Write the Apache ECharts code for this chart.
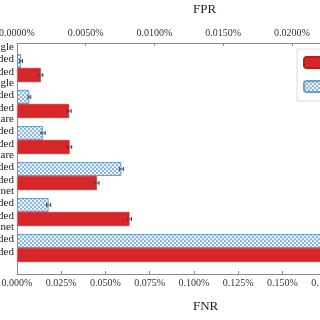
<!DOCTYPE html>
<html>
<head>
<meta charset="utf-8">
<script src="https://cdn.jsdelivr.net/npm/echarts@6/dist/echarts.min.js"></script>
<style>
  html, body { margin: 0; padding: 0; background: #fff; }
  #chart { width: 320px; height: 320px; }
</style>
</head>
<body>
<div id="chart"></div>
<script>
// groups, top to bottom
var groupNames = ['Single', 'Angle', 'Square', 'Share', 'Convnet', 'Resnet'];
var variantNames = ['Padded', 'Unpadded'];

// FNR (bottom axis, red), in %
var fnrValues = [0.0134, 0.0294, 0.0297, 0.0451, 0.0635, 0.1900];
var fnrErrors = [0.0012, 0.0012, 0.0012, 0.0012, 0.0012, 0.0010];

// FPR (top axis, hatched blue), in %
var fprValues = [0.0003, 0.0009, 0.0019, 0.0076, 0.0023, 0.0250];
var fprErrors = [0.0001, 0.0001, 0.00015, 0.00015, 0.00015, 0.0001];

var fnrTicks = { min: 0, max: 0.2, interval: 0.025 };
var fprTicks = { min: 0, max: 0.02575, interval: 0.005 };

var serif = 'Liberation Serif';
var catGap = 0.22;

function makeHatch() {
	var c = document.createElement('canvas');
	c.width = 4; c.height = 4;
	var ctx = c.getContext('2d');
	ctx.fillStyle = '#eef5fc';
	ctx.fillRect(0, 0, 4, 4);
	ctx.fillStyle = '#8db7e2';
	ctx.fillRect(0, 0, 2, 2);
	ctx.fillRect(2, 2, 2, 2);
	return c;
}

// extra empty line at the end lifts the block so "Padded"/"Unpadded" sit by their bars
var categoryLabels = groupNames.map(function (g) {
	return '{t|' + g + '}\n{t|' + variantNames[0] + '}\n{t|' + variantNames[1] + '}\n{s| }';
});

function errorBars(values, errors, side) {
	return values.map(function (v, i) { return [v, i, errors[i], side]; });
}

function renderError(params, api) {
	var v = api.value(0), cat = api.value(1), e = api.value(2), side = api.value(3);
	var p0 = api.coord([v - e, cat]);
	var p1 = api.coord([v + e, cat]);
	var band = api.size([0, 1])[1];
	var barW = band * (1 - catGap) / 2;
	var y = p0[1] + side * barW / 2;
	var style = { stroke: '#444', lineWidth: 1 };
	return {
		type: 'group',
		children: [
			{ type: 'line', shape: { x1: p0[0], y1: y, x2: p1[0], y2: y }, style: style },
			{ type: 'line', shape: { x1: p0[0], y1: y - 2, x2: p0[0], y2: y + 2 }, style: style },
			{ type: 'line', shape: { x1: p1[0], y1: y - 2, x2: p1[0], y2: y + 2 }, style: style }
		]
	};
}

var chart = echarts.init(document.getElementById('chart'), null, { renderer: 'canvas' });

var axisLineStyle = { color: '#8a8a8a', width: 1 };

var option = {
	animation: false,
	backgroundColor: '#fff',
	grid: { left: 17, width: 354, top: 50, height: 216, outerBoundsMode: 'none', containLabel: false },
	legend: {
		orient: 'vertical',
		left: 297,
		top: 49,
		padding: [7, 6, 8, 6],
		itemWidth: 40,
		itemHeight: 11,
		itemGap: 11,
		borderColor: '#dcdcdc',
		borderWidth: 1,
		textStyle: { fontFamily: serif, fontSize: 11, color: '#222' },
		data: ['FNR', 'FPR']
	},
	xAxis: [
		{
			type: 'value',
			position: 'bottom',
			offset: 8,
			min: fnrTicks.min, max: fnrTicks.max, interval: fnrTicks.interval,
			axisLine: { show: true, lineStyle: axisLineStyle },
			axisTick: { show: true, inside: true, length: 3, lineStyle: axisLineStyle },
			splitLine: { show: false },
			axisLabel: {
				margin: 4,
				fontFamily: serif, fontSize: 10, color: '#333',
				formatter: function (v) { return v.toFixed(3) + '%'; }
			}
		},
		{
			type: 'value',
			position: 'top',
			offset: 7,
			min: fprTicks.min, max: fprTicks.max, interval: fprTicks.interval,
			axisLine: { show: true, lineStyle: axisLineStyle },
			axisTick: { show: true, inside: true, length: 3, lineStyle: axisLineStyle },
			splitLine: { show: false },
			axisLabel: {
				margin: 5,
				fontFamily: serif, fontSize: 10, color: '#333',
				formatter: function (v) { return v.toFixed(4) + '%'; }
			}
		}
	],
	yAxis: {
		type: 'category',
		inverse: true,
		data: categoryLabels,
		axisLine: { show: false },
		axisTick: { show: false },
		axisLabel: {
			interval: 0,
			margin: 3,
			align: 'right',
			rich: {
				t: { fontFamily: serif, fontSize: 11, color: '#222', height: 12.5, lineHeight: 12.5 },
				s: { fontFamily: serif, fontSize: 11, height: 17, lineHeight: 17 }
			}
		}
	},
	graphic: [
		{ type: 'line', shape: { x1: 17.5, y1: 43, x2: 17.5, y2: 274 }, style: { stroke: '#8a8a8a', lineWidth: 1 }, z: 10 },
		{ type: 'text', left: 193, top: 3, style: { text: 'FPR', font: '13px "Liberation Serif"', fill: '#222' } },
		{ type: 'text', left: 193, top: 300, style: { text: 'FNR', font: '13px "Liberation Serif"', fill: '#222' } }
	],
	series: [
		{
			name: 'FPR',
			type: 'bar',
			xAxisIndex: 1,
			barGap: '0%',
			barCategoryGap: (catGap * 100) + '%',
			itemStyle: {
				color: { image: makeHatch(), repetition: 'repeat' },
				borderColor: '#6b9fd0',
				borderWidth: 1
			},
			data: fprValues
		},
		{
			name: 'FNR',
			type: 'bar',
			xAxisIndex: 0,
			barGap: '0%',
			barCategoryGap: (catGap * 100) + '%',
			itemStyle: { color: '#d7262a', borderColor: '#b81d20', borderWidth: 0.5 },
			data: fnrValues
		},
		{
			type: 'custom',
			xAxisIndex: 1,
			renderItem: renderError,
			data: errorBars(fprValues, fprErrors, -1),
			z: 5
		},
		{
			type: 'custom',
			xAxisIndex: 0,
			renderItem: renderError,
			data: errorBars(fnrValues, fnrErrors, 1),
			z: 5
		}
	]
};

chart.setOption(option);
</script>
</body>
</html>
